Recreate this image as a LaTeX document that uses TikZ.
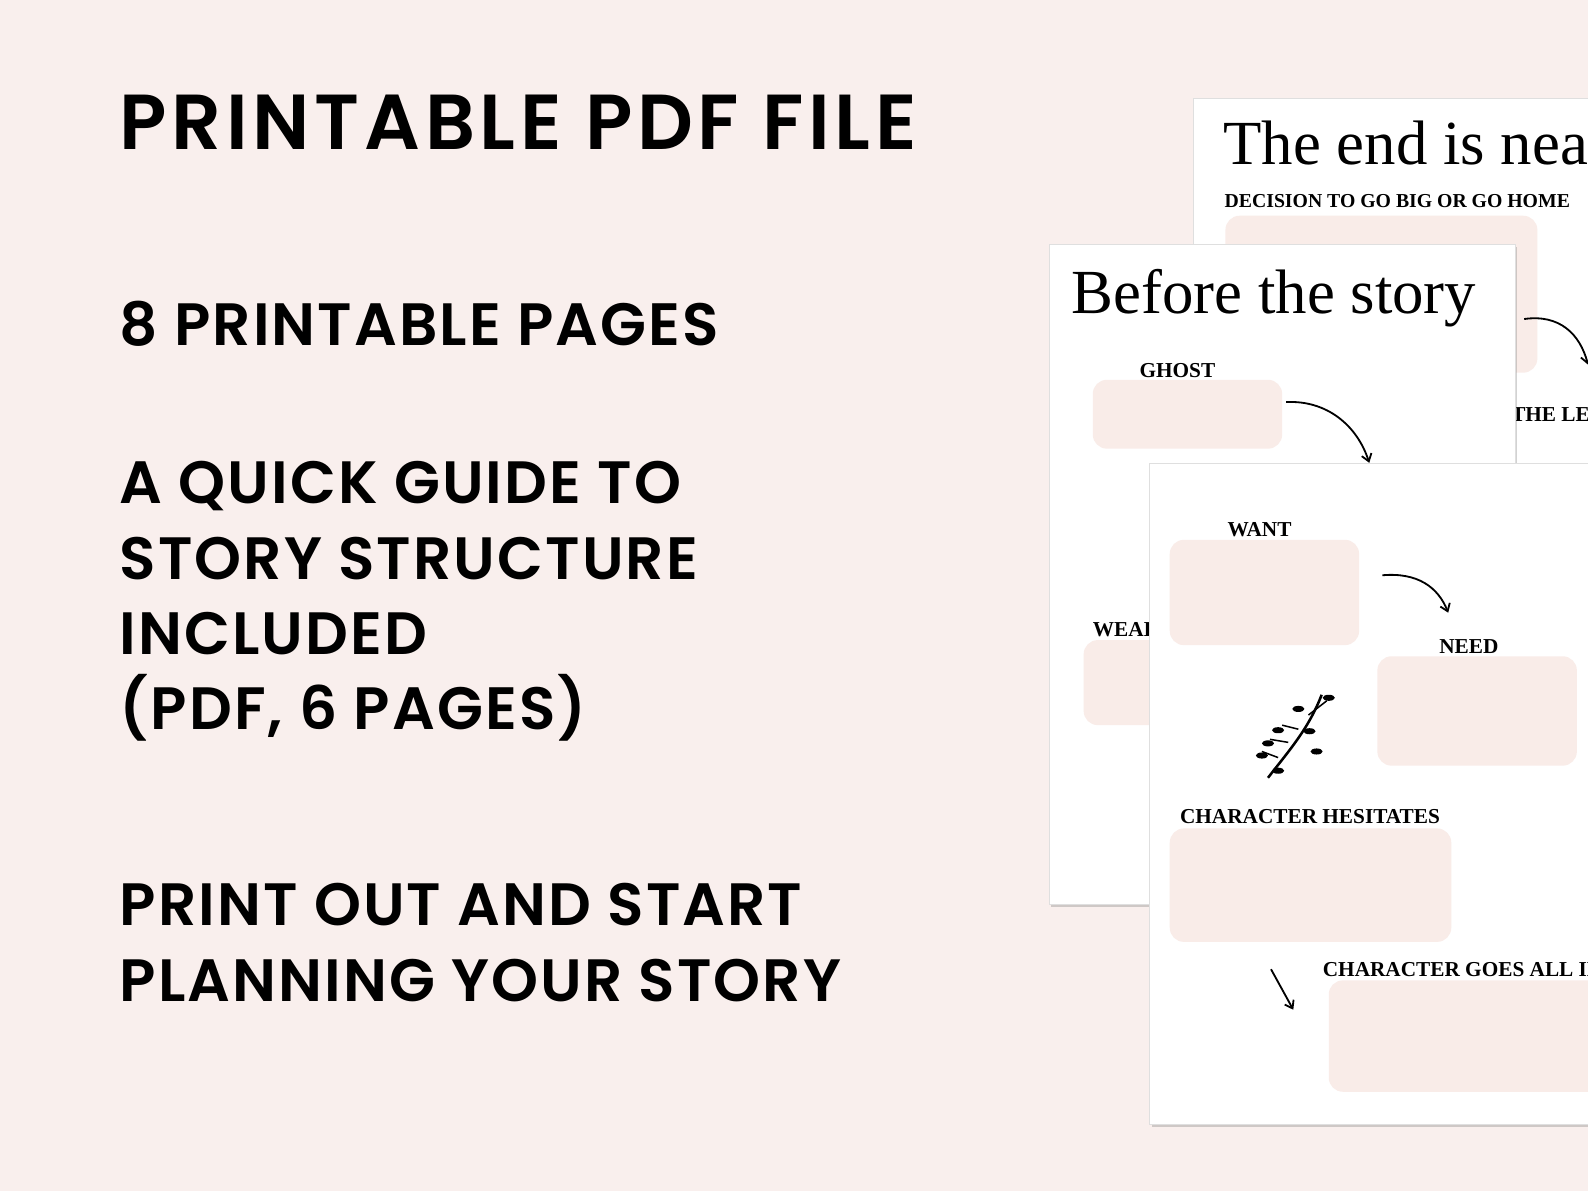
\documentclass[tikz,border=0pt]{standalone}
\usepackage{fontspec}
\setmainfont{Liberation Serif}
\newfontfamily\headfont{Poppins}[UprightFont=* SemiBold,LetterSpace=3.5]
\newfontfamily\bigheadfont{Poppins}[UprightFont=* SemiBold,LetterSpace=6]
\usetikzlibrary{shadows,arrows.meta}
\definecolor{bg}{HTML}{F9EFED}
\definecolor{boxc}{HTML}{F9ECE8}
\tikzset{
 page/.style={fill=white,draw=gray!25,line width=0.5pt,drop shadow={shadow xshift=2pt,shadow yshift=-3pt,opacity=0.35}},
 pbox/.style={fill=boxc,rounded corners=14pt},
 head/.style={anchor=base west,inner sep=0,font=\headfont\fontsize{59}{60}\selectfont,text=black},
 lab/.style={anchor=base west,inner sep=0,font=\bfseries\fontsize{21}{22}\selectfont},
 ttl/.style={anchor=base west,inner sep=0,font=\fontsize{62}{64}\selectfont},
 arr/.style={line width=1.8pt,-{Straight Barb[length=7pt,width=10pt]}}
}
\begin{document}
\begin{tikzpicture}[x=1pt,y=-1pt]
\fill[bg] (0,0) rectangle (1568,1176);
\useasboundingbox (0,0) rectangle (1568,1176);
\begin{scope}
\clip (0,0) rectangle (1568,1176);
% page 1
\fill[page] (1178,97) rectangle (1600,460);
\node[ttl] (t1) at (1208,162) {The end is near};
\node[lab,font=\bfseries\fontsize{19.5}{22}\selectfont] (d1) at (1209,205) {DECISION TO GO BIG OR GO HOME};
\fill[pbox] (1210,213) rectangle (1518,368);
\coordinate (a1s) at (1505,315); \coordinate (a1e) at (1568,360);
\draw[arr] (a1s) .. controls (1540,310) and (1560,330) .. (a1e);
\node[lab] (l1) at (1492,416) {THE LEAD};
% page 2
\fill[page] (1036,241) rectangle (1496,893);
\node[ttl] (t2) at (1058,310) {Before the story};
\node[lab] (g) at (1125,373) {GHOST};
\fill[pbox] (1079,375) rectangle (1266,443);
\coordinate (a2s) at (1270,397); \coordinate (a2e) at (1352,457);
\draw[arr] (a2s) .. controls (1310,395) and (1340,420) .. (a2e);
\node[lab] (w2) at (1079,628) {WEAKNESS};
\fill[pbox] (1070,632) rectangle (1200,716);
% page 3
\fill[page] (1135,457) rectangle (1600,1110);
\node[lab] (want) at (1212,530) {WANT};
\fill[pbox] (1155,533) rectangle (1342,637);
\coordinate (a3s) at (1365,568); \coordinate (a3e) at (1430,605);
\draw[arr] (a3s) .. controls (1400,565) and (1420,580) .. (a3e);
\node[lab] (need) at (1421,645) {NEED};
\fill[pbox] (1360,648) rectangle (1557,756);
% ornament
\draw[line width=2.5pt] (1252,768) .. controls (1272,742) and (1292,720) .. (1305,686);
\foreach \xx/\yy in {1246/746,1252/734,1262/721,1282/700,1312/689,1262/761,1300/742,1293/722}
 {\fill (\xx,\yy) ellipse[x radius=6pt,y radius=3pt];}
\draw[line width=1.5pt] (1262,748) -- (1246,742) (1272,733) -- (1254,730) (1282,720) -- (1266,716) (1292,706) -- (1310,692);
\node[lab] (ch) at (1165,813) {CHARACTER HESITATES};
\fill[pbox] (1155,818) rectangle (1433,930);
\coordinate (a4s) at (1255,957); \coordinate (a4e) at (1277,997);
\draw[arr] (a4s) -- (a4e);
\node[lab] (cg) at (1306,964) {CHARACTER GOES ALL IN};
\fill[pbox] (1312,968) rectangle (1600,1078);
\end{scope}
% left text
\node[head,font=\bigheadfont\fontsize{77}{78}\selectfont] (h1) at (118,148) {PRINTABLE PDF FILE};
\node[head] (h2) at (118,341) {8 PRINTABLE PAGES};
\node[head] (h3) at (118,497) {A QUICK GUIDE TO};
\node[head] (h4) at (118,572) {STORY STRUCTURE};
\node[head] (h5) at (118,646) {INCLUDED};
\node[head] (h6) at (118,720) {(PDF, 6 PAGES)};
\node[head] (h7) at (118,914) {PRINT OUT AND START};
\node[head] (h8) at (118,989) {PLANNING YOUR STORY};
\end{tikzpicture}
\end{document}
